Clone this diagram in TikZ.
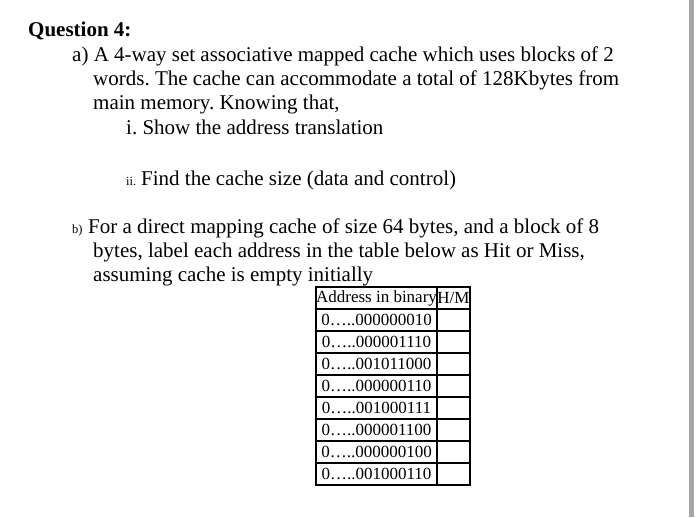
\documentclass[tikz,border=0pt]{standalone}
\usepackage{fontspec}
\setmainfont{Liberation Serif}
\frenchspacing
\begin{document}
\begin{tikzpicture}[x=1pt,y=-1pt,
  txt/.style={anchor=base west,inner sep=0pt,font=\fontsize{21}{24}\selectfont},
  sm/.style={anchor=base west,inner sep=0pt,font=\fontsize{12.5}{14}\selectfont},
  cell/.style={draw,line width=1.2pt,minimum height=22pt,inner sep=0pt,font=\fontsize{17}{18}\selectfont},
  addr/.style={cell,minimum width=121pt},
  hm/.style={cell,minimum width=33pt}]
\useasboundingbox (0,0) rectangle (700,517);
\fill[white] (0,0) rectangle (700,517);
\fill[gray!70] (689,0) rectangle (694,517);
\node[txt,font=\fontsize{21}{24}\selectfont\bfseries] (q) at (28,36) {Question 4:};
\node[txt] (a1) at (72,61) {a) A 4-way set associative mapped cache which uses blocks of 2};
\node[txt] (a2) at (93,85) {words. The cache can accommodate a total of 128Kbytes from};
\node[txt] (a3) at (93,109) {main memory. Knowing that,};
\node[txt] (i) at (126,134) {i. Show the address translation};
\node[sm] (ii) at (126,185) {ii.};
\node[txt] (ii2) at (141,185) {Find the cache size (data and control)};
\node[sm] (b) at (72,233) {b)};
\node[txt] (b1) at (88,233) {For a direct mapping cache of size 64 bytes, and a block of 8};
\node[txt] (b2) at (93,257) {bytes, label each address in the table below as Hit or Miss,};
\node[txt] (b3) at (93,281) {assuming cache is empty initially};
\node[addr] (h0) at (376.5,298) {Address in binary};
\node[hm] (m0) at (453.5,298) {H/M};
\foreach \k/\t in {1/000000010,2/000001110,3/001011000,4/000000110,5/001000111,6/000001100,7/000000100,8/001000110}{
  \node[addr] (h\k) at (376.5,298+22*\k) {0\dots..\t};
  \node[hm] (m\k) at (453.5,298+22*\k) {};
}
\end{tikzpicture}
\end{document}
